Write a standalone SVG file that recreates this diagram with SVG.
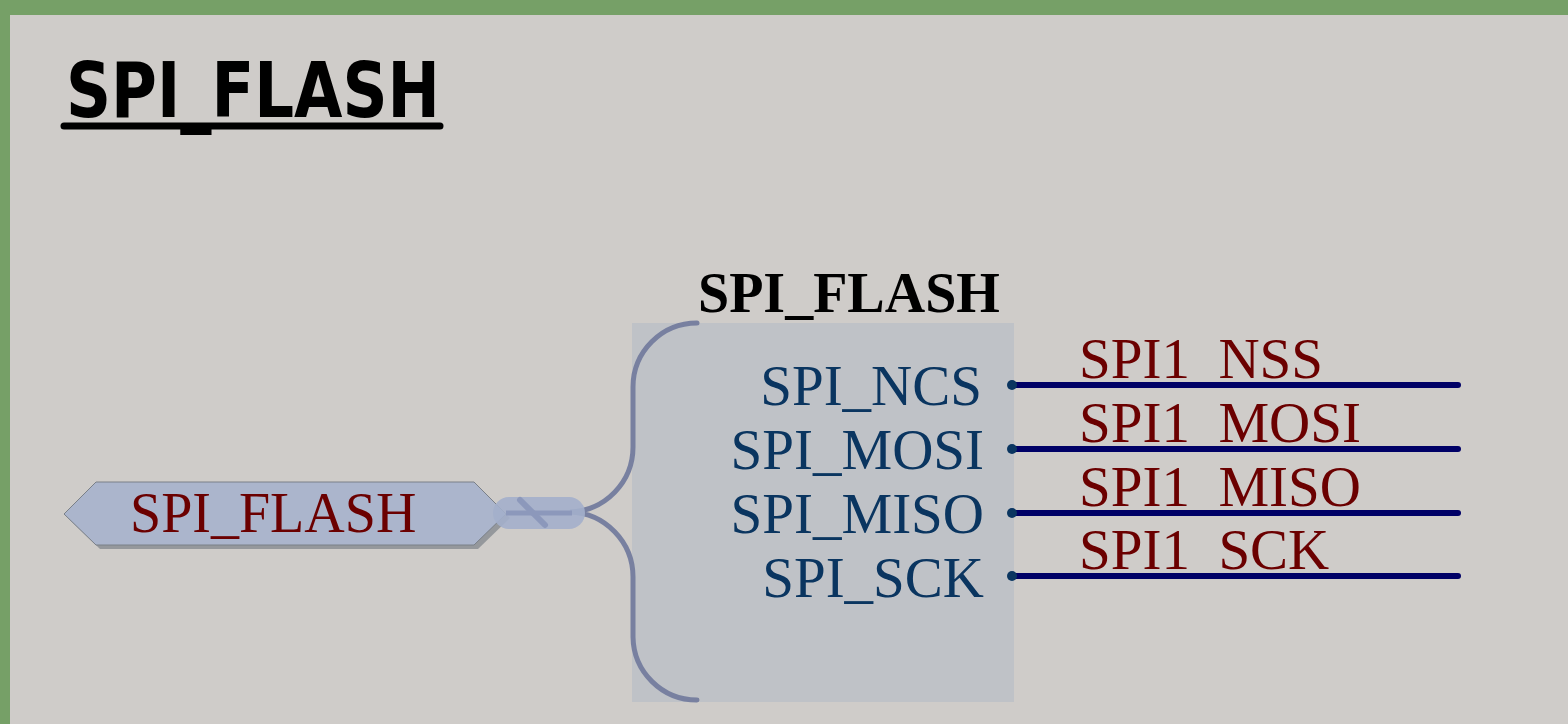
<svg xmlns="http://www.w3.org/2000/svg" width="1568" height="724" viewBox="0 0 1568 724">
<style>
.pin{font-family:"Liberation Serif",serif;font-size:57px;fill:#0a3560;text-anchor:end}
.net{font-family:"Liberation Serif",serif;font-size:57px;fill:#6b0000}
.wire{stroke:#000066;stroke-width:6;stroke-linecap:round}
.dot{fill:#0a3560}
</style>
<rect x="0" y="0" width="1568" height="724" fill="#76a067"/>
<rect x="10" y="15" width="1558" height="709" fill="#cfccc9"/>
<g id="title">
<text x="66" y="117" font-family="DejaVu Sans, sans-serif" font-weight="bold" font-size="77" fill="#000" textLength="374" lengthAdjust="spacingAndGlyphs">SPI_FLASH</text>
<line x1="64" y1="126" x2="440" y2="126" stroke="#000" stroke-width="7" stroke-linecap="round"/>
</g>
<g id="sheet">
<rect x="632" y="323" width="382" height="379" fill="#bfc2c7"/>
<text x="698" y="312" font-family="Liberation Serif, serif" font-weight="bold" font-size="56" fill="#000">SPI_FLASH</text>
<path d="M697,323 A64,64 0 0 0 633,387 V447 A65,65 0 0 1 570,512 A65,65 0 0 1 633,577 V637 A64,64 0 0 0 697,700" fill="none" stroke="#7880a0" stroke-width="5" stroke-linecap="round"/>
<text class="pin" x="982" y="405">SPI_NCS</text>
<text class="pin" x="984" y="469">SPI_MOSI</text>
<text class="pin" x="984" y="533">SPI_MISO</text>
<text class="pin" x="984" y="597">SPI_SCK</text>
</g>
<g id="port">
<polygon points="68,518 100,486 478,486 510,518 478,549 100,549" fill="#95989c"/>
<polygon points="64,514 96,482 474,482 506,514 474,545 96,545" fill="#abb5cc" stroke="#7a8088" stroke-width="1"/>
<text x="130" y="532" font-family="Liberation Serif, serif" font-size="56" fill="#6b0000">SPI_FLASH</text>
</g>
<g id="connectors">
<rect x="493" y="497" width="92" height="32" rx="16" fill="#a3afcb" opacity="0.9"/>
<line x1="506" y1="513" x2="572" y2="513" stroke="#8c98bb" stroke-width="5"/>
<line x1="520" y1="500" x2="545" y2="525" stroke="#8c98bb" stroke-width="6" stroke-linecap="round"/>
<text class="net" x="1079" y="378">SPI1_NSS</text>
<text class="net" x="1079" y="442">SPI1_MOSI</text>
<text class="net" x="1079" y="506">SPI1_MISO</text>
<text class="net" x="1079" y="569">SPI1_SCK</text>
<line class="wire" x1="1012" y1="385" x2="1458" y2="385"/>
<line class="wire" x1="1012" y1="449" x2="1458" y2="449"/>
<line class="wire" x1="1012" y1="513" x2="1458" y2="513"/>
<line class="wire" x1="1012" y1="576" x2="1458" y2="576"/>
<circle class="dot" cx="1012" cy="385" r="5"/>
<circle class="dot" cx="1012" cy="449" r="5"/>
<circle class="dot" cx="1012" cy="513" r="5"/>
<circle class="dot" cx="1012" cy="576" r="5"/>
</g>
</svg>
